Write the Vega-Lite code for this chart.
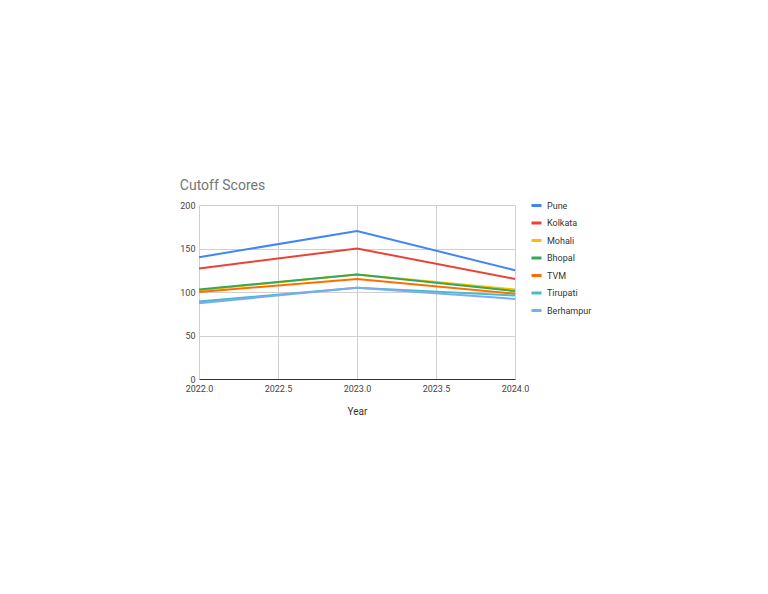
{
  "$schema": "https://vega.github.io/schema/vega-lite/v6.json",
  "width": 316,
  "height": 174,
  "padding": {"left": 179, "top": 179, "right": 10, "bottom": 10},
  "background": "white",
  "title": {
    "text": "Cutoff Scores",
    "anchor": "start",
    "frame": "bounds",
    "fontSize": 14,
    "font": "Roboto",
    "fontWeight": "normal",
    "color": "#757575",
    "offset": 6
  },
  "config": {
    "font": "Roboto",
    "view": {"stroke": null}
  },
  "data": {
    "values": [
      {"City": "Pune", "Year": 2022, "Score": 140},
      {"City": "Pune", "Year": 2023, "Score": 170},
      {"City": "Pune", "Year": 2024, "Score": 125},
      {"City": "Kolkata", "Year": 2022, "Score": 127},
      {"City": "Kolkata", "Year": 2023, "Score": 150},
      {"City": "Kolkata", "Year": 2024, "Score": 115},
      {"City": "Mohali", "Year": 2022, "Score": 102},
      {"City": "Mohali", "Year": 2023, "Score": 120},
      {"City": "Mohali", "Year": 2024, "Score": 103},
      {"City": "Bhopal", "Year": 2022, "Score": 103},
      {"City": "Bhopal", "Year": 2023, "Score": 120},
      {"City": "Bhopal", "Year": 2024, "Score": 101},
      {"City": "TVM", "Year": 2022, "Score": 100},
      {"City": "TVM", "Year": 2023, "Score": 115},
      {"City": "TVM", "Year": 2024, "Score": 98},
      {"City": "Tirupati", "Year": 2022, "Score": 89},
      {"City": "Tirupati", "Year": 2023, "Score": 105},
      {"City": "Tirupati", "Year": 2024, "Score": 96},
      {"City": "Berhampur", "Year": 2022, "Score": 87},
      {"City": "Berhampur", "Year": 2023, "Score": 105},
      {"City": "Berhampur", "Year": 2024, "Score": 92}
    ]
  },
  "mark": {"type": "line", "strokeWidth": 2},
  "encoding": {
    "x": {
      "field": "Year",
      "type": "quantitative",
      "title": "Year",
      "scale": {"domain": [2022, 2024], "nice": false, "zero": false},
      "axis": {
        "values": [2022, 2022.5, 2023, 2023.5, 2024],
        "format": ".1f",
        "labelFlush": false,
        "labelOverlap": false,
        "ticks": false,
        "labelFontSize": 9,
        "labelColor": "#444",
        "labelPadding": 5,
        "domainColor": "#333",
        "gridColor": "#d0d0d0",
        "titleFontSize": 10,
        "titleFontWeight": "normal",
        "titleColor": "#333",
        "titlePadding": 13
      }
    },
    "y": {
      "field": "Score",
      "type": "quantitative",
      "title": null,
      "scale": {"domain": [0, 200]},
      "axis": {
        "values": [0, 50, 100, 150, 200],
        "domain": false,
        "ticks": false,
        "labelFontSize": 9,
        "labelColor": "#444",
        "labelPadding": 4,
        "gridColor": "#d0d0d0"
      }
    },
    "color": {
      "field": "City",
      "type": "nominal",
      "title": null,
      "sort": ["Pune", "Kolkata", "Mohali", "Bhopal", "TVM", "Tirupati", "Berhampur"],
      "scale": {
        "domain": ["Pune", "Kolkata", "Mohali", "Bhopal", "TVM", "Tirupati", "Berhampur"],
        "range": ["#4285F4", "#EA4335", "#FBBC04", "#34A853", "#FF6D01", "#46BDC6", "#7BAAF7"]
      },
      "legend": {
        "orient": "none",
        "legendX": 331,
        "legendY": -6,
        "symbolType": "stroke",
        "symbolStrokeWidth": 3,
        "symbolSize": 100,
        "labelFontSize": 9,
        "labelColor": "#333",
        "rowPadding": 4.5,
        "padding": 0
      }
    },
    "order": {"field": "Year"}
  }
}
